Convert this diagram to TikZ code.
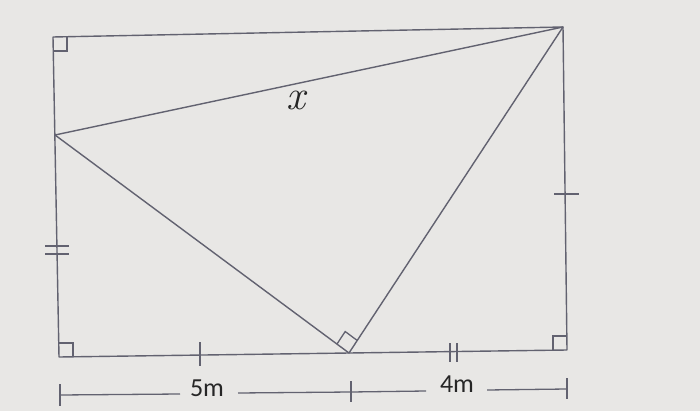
\documentclass[tikz,border=0pt]{standalone}
\usepackage{fontspec}
\newfontfamily\labelfont{Carlito}
\usetikzlibrary{calc}
\definecolor{paper}{RGB}{232,231,229}
\definecolor{ink}{RGB}{98,98,112}
\begin{document}
\begin{tikzpicture}[x=1pt,y=-1pt,
  edge/.style={draw=ink,line width=1.4pt,line join=round},
  tickmark/.style={draw=ink,line width=1.3pt},
  dimlabel/.style={text=black!85,font=\labelfont\fontsize{26}{28}\selectfont,inner sep=0pt}]
\fill[paper] (0,0) rectangle (700,411);
\useasboundingbox (0,0) rectangle (700,411);
% corners
\coordinate (A) at (53,37);
\coordinate (B) at (563,27);
\coordinate (C) at (567,350);
\coordinate (D) at (59,357);
\coordinate (E) at (55,135);
\coordinate (F) at (349,353);
% rectangle and triangle
\draw[edge] (A) -- (B) -- (C) -- (D) -- cycle;
\draw[edge] (E) -- (B);
\draw[edge] (E) -- (F) -- (B);
% right angle marks
\draw[tickmark] (53,51) -- (67,51) -- (67,37);
\draw[tickmark] (59,343) -- (73,343) -- (73,357);
\draw[tickmark] (553,350) -- (553,336) -- (567,336);
\coordinate (F1) at ($(F)!15pt!(E)$);
\coordinate (F2) at ($(F)!15pt!(B)$);
\draw[tickmark] (F1) -- ($(F1)+(F2)-(F)$) -- (F2);
% equal-length ticks
\draw[tickmark] (200,342) -- (200,366);
\draw[tickmark] (450,343) -- (450,362);
\draw[tickmark] (457,343) -- (457,362);
\draw[tickmark] (554,194) -- (579,194);
\draw[tickmark] (45,246) -- (69,246);
\draw[tickmark] (45,254) -- (69,254);
% label x
\node[text=black!85,font=\fontsize{42}{44}\selectfont\itshape,inner sep=0pt] (xl) at (296,100) {x};
% dimension line
\coordinate (L) at (60,395);
\coordinate (M) at (351,392);
\coordinate (R) at (567,389);
\node[dimlabel] (five) at (207,388) {5m};
\node[dimlabel] (four) at (457,384) {4m};
\coordinate (L1) at (180,394);
\coordinate (L2) at (238,393);
\coordinate (R1) at (426,391);
\coordinate (R2) at (487,390);
\draw[tickmark] (L) -- (L1);
\draw[tickmark] (L2) -- (M) -- (R1);
\draw[tickmark] (R2) -- (R);
\draw[tickmark] (60,384) -- (60,406);
\draw[tickmark] (351,381) -- (351,402);
\draw[tickmark] (567,378) -- (567,399);
\end{tikzpicture}
\end{document}
